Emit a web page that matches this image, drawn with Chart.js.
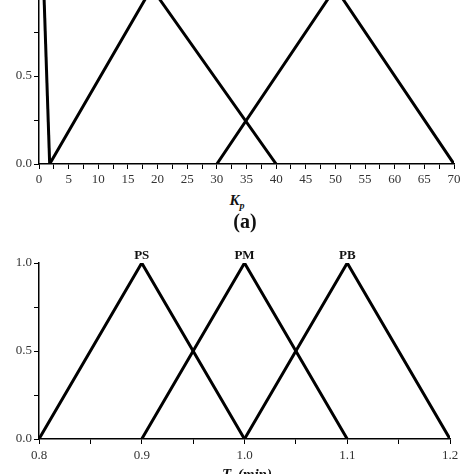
<!DOCTYPE html>
<html>
<head>
<meta charset="utf-8">
<script src="https://cdn.jsdelivr.net/npm/chart.js@4"></script>
<style>
  body { margin: 0; width: 474px; height: 474px; overflow: hidden; background: #fff; position: relative; font-family: "Liberation Serif", serif; }
  canvas { position: absolute; left: 0; }
  #graficoKp { top: -40px; }
  #graficoTi { top: 230px; }
  .titulo { position: absolute; font-weight: bold; color: #111; white-space: nowrap; transform: translateX(-50%); }
</style>
</head>
<body>
<canvas id="graficoKp" width="474" height="230"></canvas>
<canvas id="graficoTi" width="474" height="244"></canvas>
<div class="titulo" style="left:237px; top:192px; font-size:15px; font-style:italic;">K<sub style="font-size:10px">p</sub></div>
<div class="titulo" style="left:245px; top:210px; font-size:20px;">(a)</div>
<div class="titulo" style="left:247px; top:466px; font-size:15px; font-style:italic;">T<sub style="font-size:10px">i</sub> (min)</div>
<script>
// funcoes de pertinencia - Kp
var kp_nomes = ['PS', 'PM', 'PB']
var kp_ps_x = [0.8, 1.8]
var kp_ps_y = [1, 0]
var kp_pm_x = [1.8, 19, 40]
var kp_pm_y = [0, 1, 0]
var kp_pb_x = [30, 50, 70]
var kp_pb_y = [0, 1, 0]

// funcoes de pertinencia - Ti
var ti_nomes = ['PS', 'PM', 'PB']
var ti_ps_x = [0.8, 0.9, 1.0]
var ti_pm_x = [0.9, 1.0, 1.1]
var ti_pb_x = [1.0, 1.1, 1.2]
var ti_y = [0, 1, 0]

var kp_ticks_x = [0, 70, 2.5]   // min, max, passo
var ti_ticks_x = [0.8, 1.2, 0.05]
var ticks_y = [0, 1, 0.25]

function juntar(xs, ys) {
    var pontos = []
    for (let i = 0; i < xs.length; i++) {
        pontos.push({ x: xs[i], y: ys[i] })
    }
    return pontos
}

function serie(xs, ys) {
    return {
        data: juntar(xs, ys),
        borderColor: '#000',
        borderWidth: 3,
        pointRadius: 0,
        tension: 0,
        fill: false
    }
}

function eixo(t, passoLabel, casas, larguraFixa, alturaFixa, pad) {
    return {
        type: 'linear',
        min: t[0],
        max: t[1],
        grid: { display: true, drawOnChartArea: false, drawTicks: true, tickLength: 5, color: '#000', lineWidth: 1 },
        border: { display: true, color: '#000', width: 1.5 },
        ticks: {
            stepSize: t[2],
            autoSkip: false,
            maxRotation: 0,
            padding: pad,
            color: '#333',
            font: { family: 'Liberation Serif', size: 13 },
            callback: function (v) {
                var k = v / passoLabel
                if (Math.abs(k - Math.round(k)) < 1e-6) {
                    return casas >= 0 ? Number(v).toFixed(casas) : String(Math.round(v))
                }
                return ''
            }
        },
        afterFit: function (scale) {
            if (larguraFixa) scale.width = larguraFixa
            if (alturaFixa) scale.height = alturaFixa
        }
    }
}

var rotulosPico = {
    id: 'rotulosPico',
    afterDatasetsDraw: function (chart, args, opts) {
        if (!opts.nomes) return
        var ctx = chart.ctx
        ctx.save()
        ctx.fillStyle = '#111'
        ctx.font = 'bold 13px "Liberation Serif"'
        ctx.textAlign = 'center'
        ctx.textBaseline = 'bottom'
        for (let i = 0; i < opts.nomes.length; i++) {
            var px = chart.scales.x.getPixelForValue(opts.picos[i])
            var py = chart.scales.y.getPixelForValue(1)
            ctx.fillText(opts.nomes[i], px, py - 1)
        }
        ctx.restore()
    }
}

function grafico(id, datasets, eixoX, eixoY, padding, plug) {
    var ctx = document.getElementById(id).getContext('2d')
    return new Chart(ctx, {
        type: 'line',
        data: { datasets: datasets },
        options: {
            responsive: false,
            animation: false,
            layout: { padding: padding },
            scales: { x: eixoX, y: eixoY },
            plugins: {
                legend: { display: false },
                tooltip: { enabled: false },
                rotulosPico: plug
            }
        },
        plugins: [rotulosPico]
    })
}

var myChart1 = grafico('graficoKp',
    [serie(kp_ps_x, kp_ps_y), serie(kp_pm_x, kp_pm_y), serie(kp_pb_x, kp_pb_y)],
    eixo(kp_ticks_x, 5, -1, null, 26, 3),
    eixo(ticks_y, 0.5, 1, 39, null, 2),
    { top: 28, right: 20, left: 0, bottom: 0 },
    {})

var myChart2 = grafico('graficoTi',
    [serie(ti_ps_x, ti_y), serie(ti_pm_x, ti_y), serie(ti_pb_x, ti_y)],
    eixo(ti_ticks_x, 0.1, 1, null, 35, 4),
    eixo(ticks_y, 0.5, 1, 39, null, 2),
    { top: 33, right: 24, left: 0, bottom: 0 },
    { nomes: ti_nomes, picos: [ti_ps_x[1], ti_pm_x[1], ti_pb_x[1]] })
</script>
</body>
</html>
